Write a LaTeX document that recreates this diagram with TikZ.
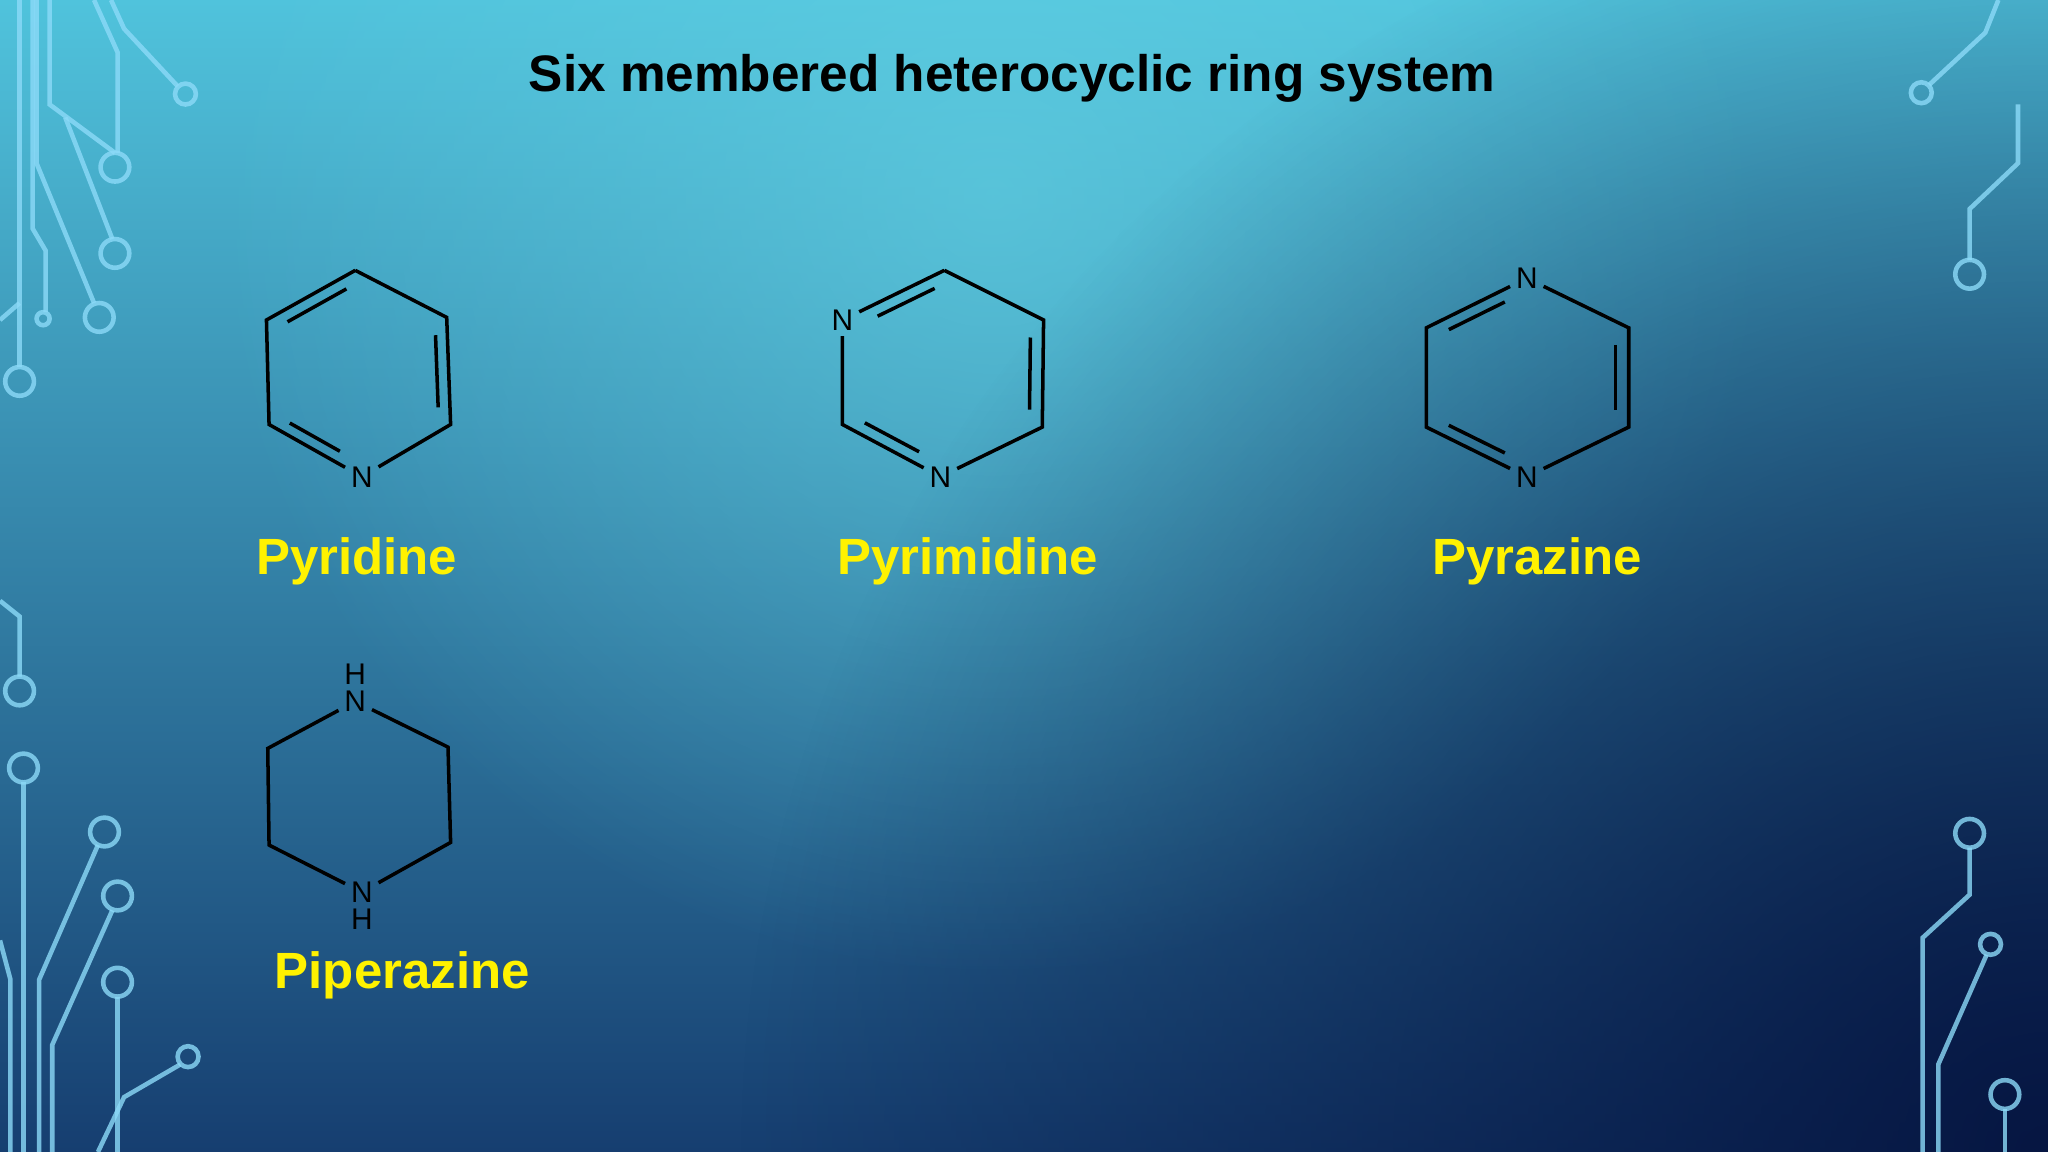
\documentclass[tikz,border=0pt]{standalone}
\usepackage{fontspec}
\setmainfont{Liberation Sans}
\usetikzlibrary{calc,fadings}
\tikzfading[name=fadeout, inner color=transparent!0, outer color=transparent!100]
\definecolor{glow}{RGB}{100,210,228}
\definecolor{navy}{RGB}{6,22,66}
\definecolor{topc}{RGB}{80,195,220}
\definecolor{botc}{RGB}{22,62,112}
\tikzset{
 bond/.style={line width=1pt,black},
 atom/.style={inner sep=1.5pt,font=\fontsize{8.5}{9}\selectfont},
 lbl/.style={text=yellow,font=\bfseries\fontsize{14.5}{16}\selectfont},
 circ/.style={draw=cyan!45!white,line width=1.3pt,opacity=0.8},
}
\newcommand\dbl[4][]{\draw[bond,shorten <=3pt,shorten >=3pt,#1] ($(#2.center)!0.13!(#4)$) -- ($(#3.center)!0.13!(#4)$);}
\begin{document}
\begin{tikzpicture}[x=0.013061cm,y=-0.013061cm]
\useasboundingbox (0,0) rectangle (1568,882);
\begin{scope}
\clip (0,0) rectangle (1568,882);
\shade[top color=topc,bottom color=botc] (0,0) rectangle (1568,882);
\fill[glow,path fading=fadeout,opacity=0.6] (760,150) circle (600);
\fill[navy,path fading=fadeout] (1568,882) circle (1000);
\end{scope}
% circuit decorations
\begin{scope}[circ]
\draw (15,0)--(15,281); \draw (15,292) circle (11);
\draw (25,0)--(25,175)--(35,192)--(35,239); \draw (33,244) circle (5);
\draw (38,0)--(38,80)--(88,117); \draw (88,128) circle (11);
\draw (28,0)--(28,125)--(72,232); \draw (76,243) circle (11);
\draw (50,90)--(86,183); \draw (88,194) circle (11);
\draw (72,0)--(90,40)--(90,117);
\draw (85,0)--(95,22)--(136,66); \draw (142,72) circle (8);
\draw (0,245)--(15,232);
\draw (0,460)--(15,472)--(15,518); \draw (15,529) circle (11);
\draw (18,599)--(18,882); \draw (18,588) circle (11);
\draw (0,720)--(8,750)--(8,882);
\draw (30,882)--(30,750)--(75,647); \draw (80,637) circle (11);
\draw (40,882)--(40,800)--(86,697); \draw (90,686) circle (11);
\draw (90,763)--(90,882); \draw (90,752) circle (11);
\draw (75,882)--(95,840)--(138,815); \draw (144,809) circle (8);
\draw (1530,0)--(1520,25)--(1477,65); \draw (1471,71) circle (8);
\draw (1545,80)--(1545,125)--(1508,160)--(1508,199); \draw (1508,210) circle (11);
\draw (1508,638) circle (11); \draw (1508,649)--(1508,685)--(1472,718)--(1472,882);
\draw (1524,723) circle (8); \draw (1521,731)--(1484,815)--(1484,882);
\draw (1535,838) circle (11); \draw (1535,849)--(1535,882);
\end{scope}
\node[font=\bfseries\fontsize{14.6}{16}\selectfont] (title) at (775,60) {Six membered heterocyclic ring system};
% Pyridine
\coordinate (a1) at (272,207); \coordinate (a2) at (342,243); \coordinate (a3) at (345,325);
\node[atom] (a4) at (277,365) {N}; \coordinate (a5) at (206,325); \coordinate (a6) at (204,245);
\coordinate (ac) at (274,286);
\draw[bond] (a1)--(a2)--(a3)--(a4)--(a5)--(a6)--(a1);
\dbl{a6}{a1}{ac} \dbl{a2}{a3}{ac} \dbl[shorten >=7pt]{a5}{a4}{ac}
\node[lbl] (l1) at (273,430) {Pyridine};
% Pyrimidine
\coordinate (b1) at (723,207); \coordinate (b2) at (799,245); \coordinate (b3) at (798,327);
\node[atom] (b4) at (720,365) {N}; \coordinate (b5) at (645,325); \node[atom] (b6) at (645,245) {N};
\coordinate (bc) at (722,286);
\draw[bond] (b1)--(b2)--(b3)--(b4)--(b5)--(b6)--(b1);
\dbl[shorten <=7pt]{b6}{b1}{bc} \dbl{b2}{b3}{bc} \dbl[shorten >=7pt]{b5}{b4}{bc}
\node[lbl] (l2) at (741,430) {Pyrimidine};
% Pyrazine
\node[atom] (c1) at (1169,213) {N}; \coordinate (c2) at (1247,251); \coordinate (c3) at (1247,327);
\node[atom] (c4) at (1169,365) {N}; \coordinate (c5) at (1092,327); \coordinate (c6) at (1092,251);
\coordinate (cc) at (1169,289);
\draw[bond] (c1)--(c2)--(c3)--(c4)--(c5)--(c6)--(c1);
\dbl[shorten >=7pt]{c6}{c1}{cc} \dbl{c2}{c3}{cc} \dbl[shorten >=7pt]{c5}{c4}{cc}
\node[lbl] (l3) at (1177,430) {Pyrazine};
% Piperazine
\node[atom] (d1) at (272,537) {N}; \coordinate (d2) at (343,572); \coordinate (d3) at (345,645);
\node[atom] (d4) at (277,683) {N}; \coordinate (d5) at (206,647); \coordinate (d6) at (205,573);
\node[atom] (h1) at (272,516) {H}; \node[atom] (h2) at (277,704) {H};
\draw[bond] (d1)--(d2)--(d3)--(d4)--(d5)--(d6)--(d1);
\node[lbl] (l4) at (308,747) {Piperazine};
\end{tikzpicture}
\end{document}
